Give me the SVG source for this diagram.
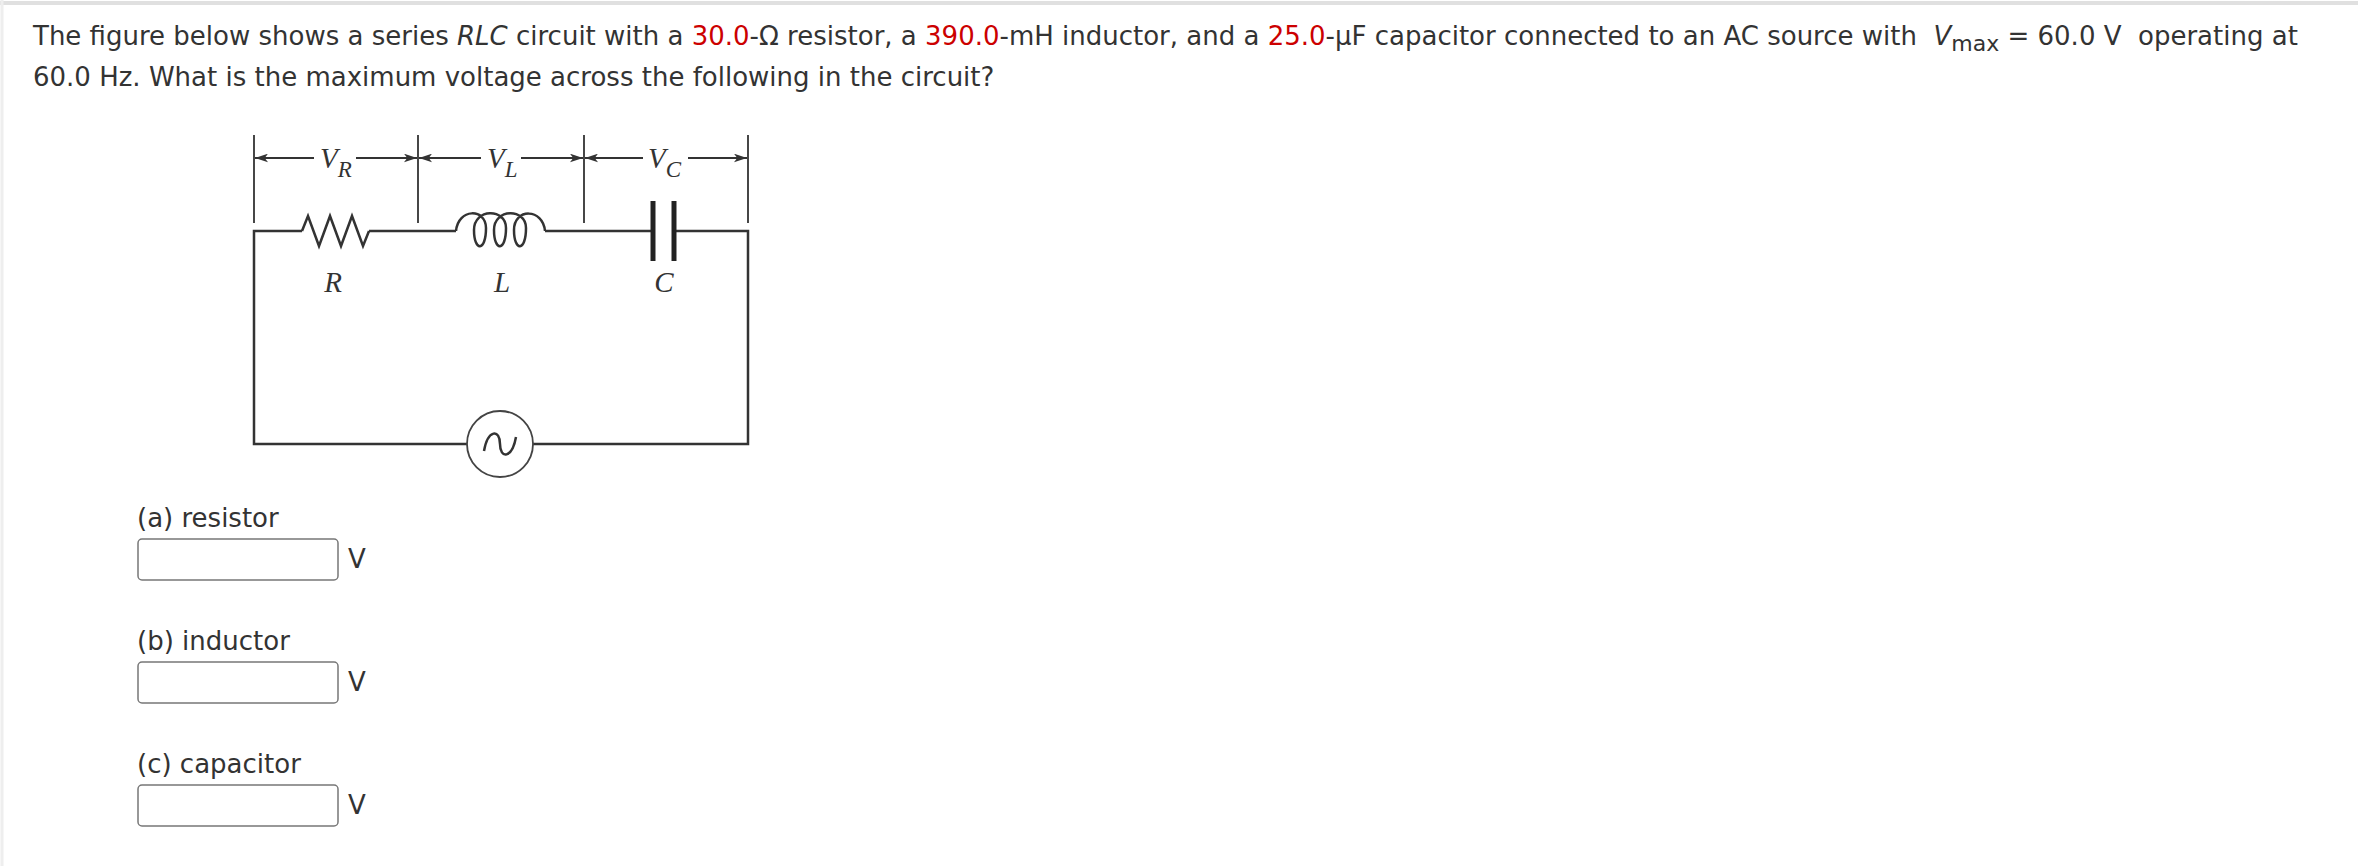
<svg xmlns="http://www.w3.org/2000/svg" width="2358" height="866" viewBox="0 0 2358 866">
<defs>
<style>
.q{font-family:"DejaVu Sans",Verdana,sans-serif;font-size:26px;fill:#333}
.r{fill:#cc0000}
.w{fill:none;stroke:#333;stroke-width:2.5}
.t{fill:none;stroke:#333;stroke-width:1.8}
.s{font-family:"Liberation Serif",serif;font-style:italic;font-size:29px;fill:#333}
.box{fill:#fff;stroke:#777;stroke-width:1.5}
</style>
<marker id="ah" viewBox="0 0 12 8" refX="12" refY="4" markerWidth="13" markerHeight="9" markerUnits="userSpaceOnUse" orient="auto"><path d="M0,0 L12,4 L0,8 L3,4 Z" fill="#333"/></marker>
</defs>
<rect width="2358" height="866" fill="#fff"/>
<line x1="0" y1="3" x2="2358" y2="3" stroke="#e0e0e0" stroke-width="4"/>
<line x1="2" y1="0" x2="2" y2="866" stroke="#eee" stroke-width="3"/>
<text class="q" x="33" y="45" xml:space="preserve">The figure below shows a series <tspan font-style="italic">RLC</tspan> circuit with a <tspan class="r">30.0</tspan>-Ω resistor, a <tspan class="r">390.0</tspan>-mH inductor, and a <tspan class="r">25.0</tspan>-μF capacitor connected to an AC source with  <tspan font-style="italic">V</tspan><tspan font-size="22" dy="6">max</tspan><tspan dy="-6"> = 60.0 V  operating at</tspan></text>
<text class="q" x="33" y="86">60.0 Hz. What is the maximum voltage across the following in the circuit?</text>
<g id="connectors">
<path class="w" d="M302,231 H254 V444 H467 M533,444 H748 V231 H674 M653,231 H545 M456,231 H369"/>
</g>
<g id="resistor">
<path class="w" d="M302,231 L308,216 L319,246 L330,216 L341,246 L352,216 L363,246 L369,231"/>
<text class="s" x="333" y="292" text-anchor="middle">R</text>
</g>
<g id="inductor">
<path class="w" d="M456,231 C458,208 486,208 486,228 C486,252 474,252 474,230 C474,208 506,208 506,228 C506,252 494,252 494,230 C494,208 526,208 526,228 C526,252 514,252 514,230 C514,208 543,208 545,231"/>
<text class="s" x="502" y="292" text-anchor="middle">L</text>
</g>
<g id="capacitor">
<line x1="653" y1="201" x2="653" y2="261" stroke="#222" stroke-width="5"/>
<line x1="674" y1="201" x2="674" y2="261" stroke="#222" stroke-width="5"/>
<text class="s" x="664" y="292" text-anchor="middle">C</text>
</g>
<g id="source">
<circle cx="500" cy="444" r="33" fill="#fff" stroke="#444" stroke-width="1.8"/>
<path d="M484,451 C488,429 500,429 500,444 C500,459 512,459 516,437" fill="none" stroke="#333" stroke-width="2.5"/>
</g>
<g id="measures">
<path class="t" d="M254,135 V223 M418,135 V223 M584,135 V223 M748,135 V223"/>
<line class="t" x1="314" y1="158" x2="255" y2="158" marker-end="url(#ah)"/>
<line class="t" x1="356" y1="158" x2="417" y2="158" marker-end="url(#ah)"/>
<line class="t" x1="481" y1="158" x2="419" y2="158" marker-end="url(#ah)"/>
<line class="t" x1="521" y1="158" x2="583" y2="158" marker-end="url(#ah)"/>
<line class="t" x1="643" y1="158" x2="585" y2="158" marker-end="url(#ah)"/>
<line class="t" x1="688" y1="158" x2="747" y2="158" marker-end="url(#ah)"/>
<text class="s" x="320" y="168">V<tspan font-size="23" dy="9">R</tspan></text>
<text class="s" x="487" y="168">V<tspan font-size="23" dy="9">L</tspan></text>
<text class="s" x="648" y="168">V<tspan font-size="23" dy="9">C</tspan></text>
</g>
<g id="answers">
<text class="q" x="137" y="527">(a) resistor</text>
<rect class="box" x="138" y="539" width="200" height="41" rx="4"/>
<text class="q" x="348" y="568">V</text>
<text class="q" x="137" y="650">(b) inductor</text>
<rect class="box" x="138" y="662" width="200" height="41" rx="4"/>
<text class="q" x="348" y="691">V</text>
<text class="q" x="137" y="773">(c) capacitor</text>
<rect class="box" x="138" y="785" width="200" height="41" rx="4"/>
<text class="q" x="348" y="814">V</text>
</g>
</svg>
